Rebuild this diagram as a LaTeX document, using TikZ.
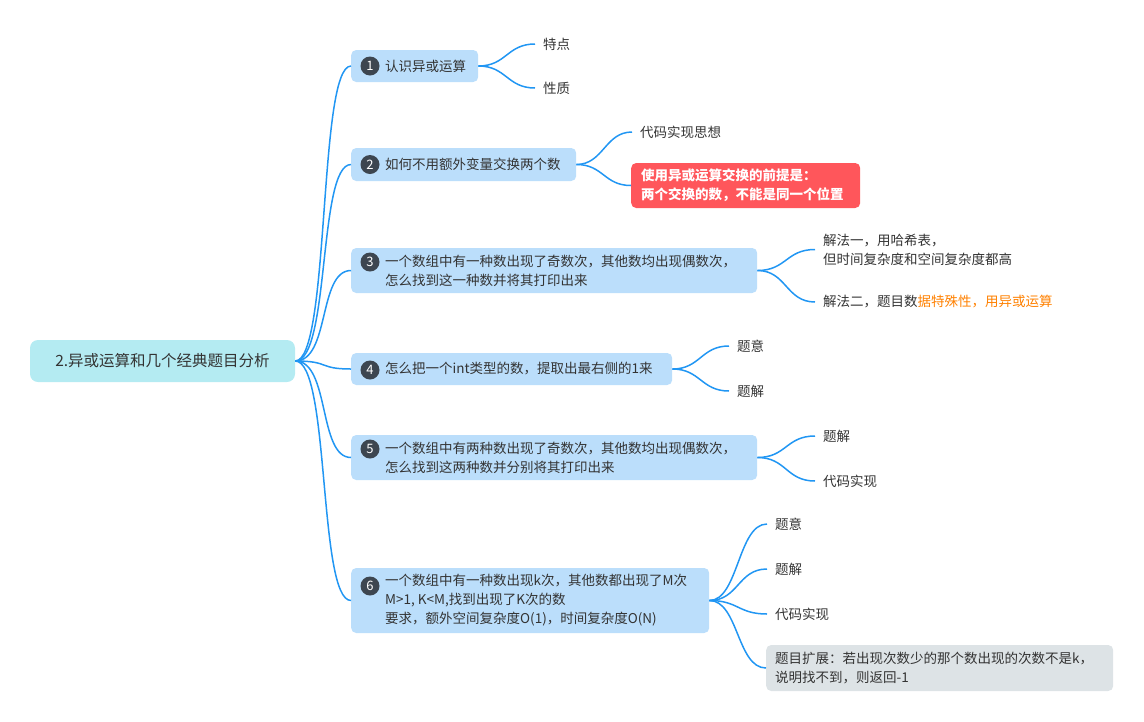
\documentclass[tikz,border=0pt]{standalone}
\usepackage{fontspec}
\setmainfont{Noto Sans CJK SC}
\definecolor{cblue}{HTML}{2196F3}
\definecolor{mblue}{HTML}{BBDEFB}
\definecolor{rootc}{HTML}{B4EBF2}
\definecolor{badgec}{HTML}{3D4650}
\definecolor{redc}{HTML}{FF565B}
\definecolor{grayc}{HTML}{DDE3E6}
\definecolor{orangec}{HTML}{FF8000}
\definecolor{txt}{HTML}{333333}
\begin{document}
\begin{tikzpicture}[x=1pt,y=-1pt,
  conn/.style={draw=cblue, line width=1.5pt},
  rootbox/.style={fill=rootc, rounded corners=8pt, minimum width=265pt, minimum height=42pt, inner sep=0pt, text=txt, font=\fontsize{15.5}{19}\selectfont},
  mainbox/.style={fill=mblue, rounded corners=5pt, inner sep=0pt, anchor=west},
  maintext/.style={anchor=west, inner sep=0pt, align=left, text=txt, font=\fontsize{13.5}{19}\selectfont},
  badge/.style={circle, fill=badgec, text=white, minimum size=19pt, inner sep=0pt, font=\fontsize{13}{13}\selectfont},
  leaf/.style={anchor=west, inner xsep=8pt, inner ysep=2pt, align=left, text=txt, font=\fontsize{13.5}{19}\selectfont},
  notebox/.style={anchor=west, rounded corners=5pt, inner xsep=10pt, inner ysep=0pt, align=left, minimum height=45pt, font=\fontsize{13.5}{19}\selectfont}
]
\useasboundingbox (0,0) rectangle (1144,721);

% root
\node[rootbox] (root) at (162.5,361) {2.异或运算和几个经典题目分析};

% main boxes
\node[mainbox, minimum width=127pt, minimum height=32pt] (m1) at (351,66) {};
\node[badge] (b1) at (370,66) {1};
\node[maintext] (t1) at (385,66) {认识异或运算};

\node[mainbox, minimum width=225pt, minimum height=33pt] (m2) at (351,164.5) {};
\node[badge] (b2) at (370,164.5) {2};
\node[maintext] (t2) at (385,164.5) {如何不用额外变量交换两个数};

\node[mainbox, minimum width=406pt, minimum height=45pt] (m3) at (351,270.5) {};
\node[badge] (b3) at (370,262) {3};
\node[maintext] (t3) at (385,271) {一个数组中有一种数出现了奇数次，其他数均出现偶数次，\\怎么找到这一种数并将其打印出来};

\node[mainbox, minimum width=321pt, minimum height=32pt] (m4) at (351,369) {};
\node[badge] (b4) at (370,370) {4};
\node[maintext] (t4) at (385,369) {怎么把一个int类型的数，提取出最右侧的1来};

\node[mainbox, minimum width=406pt, minimum height=45pt] (m5) at (351,457.5) {};
\node[badge] (b5) at (370,449) {5};
\node[maintext] (t5) at (385,458) {一个数组中有两种数出现了奇数次，其他数均出现偶数次，\\怎么找到这两种数并分别将其打印出来};

\node[mainbox, minimum width=358pt, minimum height=65pt] (m6) at (351,600.5) {};
\node[badge] (b6) at (370,586) {6};
\node[maintext] (t6) at (385,600) {一个数组中有一种数出现k次，其他数都出现了M次\\M>1, K<M,找到出现了K次的数\\要求，额外空间复杂度O(1)，时间复杂度O(N)};

% leaves
\node[leaf] (l1a) at (535,44) {特点};
\node[leaf] (l1b) at (535,88) {性质};
\node[leaf] (l2a) at (632,132) {代码实现思想};
\node[notebox, fill=redc, text=white, text width=209pt, font=\fontsize{13.5}{19}\selectfont\bfseries] (l2b) at (631,185.5) {使用异或运算交换的前提是：\\两个交换的数，不能是同一个位置};
\node[leaf] (l3a) at (815,249.5) {解法一，用哈希表，\\但时间复杂度和空间复杂度都高};
\node[leaf] (l3b) at (815,302) {解法二，题目数\textcolor{orangec}{据特殊性，用异或运算}};
\node[leaf] (l4a) at (729,346) {题意};
\node[leaf] (l4b) at (729,391) {题解};
\node[leaf] (l5a) at (815,436) {题解};
\node[leaf] (l5b) at (815,481) {代码实现};
\node[leaf] (l6a) at (767,524) {题意};
\node[leaf] (l6b) at (767,569) {题解};
\node[leaf] (l6c) at (767,614) {代码实现};
\node[notebox, fill=grayc, text=txt, inner xsep=9pt, text width=329pt, minimum height=46pt] (l6d) at (766,668) {题目扩展：若出现次数少的那个数出现的次数不是k，\\说明找不到，则返回-1};

% root connectors
\foreach \m in {m1,m2,m3,m4,m5,m6}
  \draw[conn] (root.east) .. controls +(35,0) and +(-33,0) .. (\m.west);

% child connectors
\draw[conn] (m1.east) .. controls +(28,0) and +(-28,0) .. (l1a.west);
\draw[conn] (m1.east) .. controls +(28,0) and +(-28,0) .. (l1b.west);
\draw[conn] (m2.east) .. controls +(27,0) and +(-27,0) .. (l2a.west);
\draw[conn] (m2.east) .. controls +(27,0) and +(-27,0) .. (l2b.west);
\draw[conn] (m3.east) .. controls +(29,0) and +(-29,0) .. (l3a.west);
\draw[conn] (m3.east) .. controls +(29,0) and +(-29,0) .. (l3b.west);
\draw[conn] (m4.east) .. controls +(28,0) and +(-28,0) .. (l4a.west);
\draw[conn] (m4.east) .. controls +(28,0) and +(-28,0) .. (l4b.west);
\draw[conn] (m5.east) .. controls +(29,0) and +(-29,0) .. (l5a.west);
\draw[conn] (m5.east) .. controls +(29,0) and +(-29,0) .. (l5b.west);
\draw[conn] (m6.east) .. controls +(29,0) and +(-29,0) .. (l6a.west);
\draw[conn] (m6.east) .. controls +(29,0) and +(-29,0) .. (l6b.west);
\draw[conn] (m6.east) .. controls +(29,0) and +(-29,0) .. (l6c.west);
\draw[conn] (m6.east) .. controls +(29,0) and +(-29,0) .. (l6d.west);
\end{tikzpicture}
\end{document}
